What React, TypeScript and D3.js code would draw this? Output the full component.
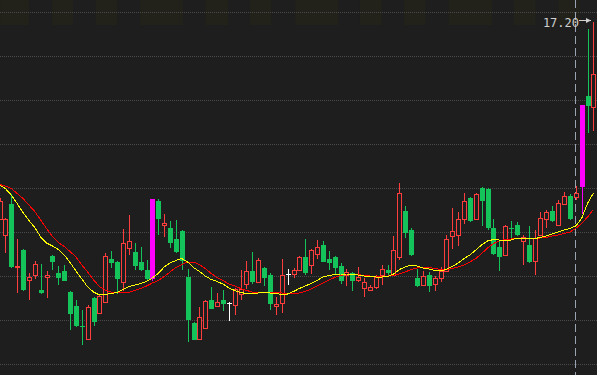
import React from 'react';
import * as d3 from 'd3';

const W = 597;
const H = 375;

// candle data (price)
const opens = [13.27,12.95,13.56,12.31,12.64,12.05,12.13,11.84,12.10,12.52,12.18,12.23,11.80,11.52,11.12,10.87,11.68,11.39,11.61,12.46,12.40,12.01,12.69,12.60,12.40,12.24,12.06,13.62,13.13,13.08,12.86,13.02,12.10,11.18,10.87,11.09,11.64,11.53,11.64,11.59,11.55,11.76,11.97,12.22,12.01,12.28,12.14,11.53,11.59,12.17,12.17,12.25,12.50,12.35,12.57,12.74,12.46,12.50,12.32,12.15,12.18,12.05,11.89,11.85,11.90,12.15,12.25,12.13,12.51,13.42,13.04,12.08,11.95,12.13,11.97,12.09,12.23,12.93,12.95,13.27,13.68,13.26,13.88,13.86,13.08,12.70,12.54,13.09,13.14,12.83,12.75,12.43,12.95,13.27,13.42,13.15,13.57,13.73,13.71,13.91,15.73,15.51];
const highs = [13.68,13.28,13.76,12.87,12.66,12.18,12.42,12.36,12.22,12.54,12.33,12.35,11.82,11.64,11.44,11.54,11.70,11.77,12.59,12.62,12.42,13.06,13.34,12.78,12.71,12.44,13.66,13.66,13.36,13.22,13.24,13.04,12.27,11.20,11.51,11.65,11.90,11.78,11.84,11.61,11.88,12.24,12.43,12.60,12.48,12.30,12.18,11.71,12.46,12.26,12.29,12.52,12.86,12.67,12.84,12.82,12.62,12.52,12.38,12.27,12.20,12.30,12.09,11.94,12.15,12.34,12.34,12.93,13.99,13.52,13.09,12.26,12.23,12.20,12.12,12.30,12.94,13.48,13.41,13.78,13.70,13.78,13.91,13.88,13.26,12.82,13.14,13.22,13.20,12.94,13.12,13.04,13.40,13.44,13.52,13.64,13.80,13.76,13.92,15.54,17.06,17.20];
const lows = [13.24,12.59,12.29,11.79,11.82,11.65,12.06,11.77,11.69,12.25,11.95,12.02,11.05,11.10,10.75,10.86,11.13,11.38,11.60,12.29,11.76,11.82,12.54,12.25,12.23,12.03,12.02,12.94,12.91,12.68,12.58,12.25,10.81,10.84,10.86,11.08,11.46,11.51,11.43,11.23,11.35,11.65,11.86,11.97,12.00,11.93,11.44,11.35,11.39,11.94,12.09,12.24,12.13,12.16,12.47,12.40,12.25,12.15,11.97,11.93,11.83,12.01,11.71,11.83,11.87,11.95,12.13,12.12,12.45,12.89,12.52,11.90,11.93,11.81,11.83,12.01,12.22,12.66,12.73,13.17,13.20,13.25,13.12,13.04,12.54,12.22,12.52,12.85,12.92,12.34,12.39,12.13,12.94,13.09,13.20,13.14,13.56,13.25,13.64,13.37,14.99,15.03];
const closes = [13.62,13.27,12.31,12.32,11.84,12.11,12.37,11.79,12.15,12.40,12.09,12.03,11.37,11.12,11.11,11.51,11.21,11.72,12.52,12.39,12.07,12.78,12.83,12.32,12.25,12.07,13.66,13.26,13.18,12.79,12.60,12.43,11.25,10.85,11.30,11.63,11.47,11.61,11.56,11.59,11.86,11.86,12.22,12.01,12.44,12.09,11.57,11.57,12.14,12.17,12.24,12.50,12.19,12.63,12.71,12.41,12.38,12.28,12.02,12.20,12.02,12.10,12.00,11.90,12.11,12.27,12.18,12.65,13.78,12.99,12.54,11.93,12.12,11.93,12.08,12.22,12.86,13.03,13.27,13.62,13.22,13.76,13.62,13.08,12.56,12.50,13.12,13.08,12.94,12.90,12.41,12.88,13.29,13.40,13.22,13.58,13.72,13.27,13.79,15.54,15.53,16.16];
const limitUpDays = [26, 99];

// moving averages
const maShort = [13.94,13.87,13.74,13.57,13.39,13.23,13.09,12.90,12.78,12.72,12.65,12.54,12.39,12.22,12.06,11.90,11.80,11.74,11.75,11.77,11.79,11.85,11.91,11.94,11.97,12.01,12.08,12.17,12.30,12.38,12.43,12.47,12.40,12.29,12.21,12.12,12.05,12.01,11.96,11.88,11.83,11.79,11.77,11.77,11.78,11.79,11.78,11.77,11.75,11.76,11.81,11.87,11.92,11.97,12.03,12.10,12.13,12.15,12.16,12.16,12.15,12.14,12.12,12.11,12.10,12.10,12.11,12.16,12.25,12.30,12.34,12.32,12.28,12.26,12.23,12.22,12.25,12.31,12.38,12.47,12.54,12.64,12.74,12.82,12.85,12.84,12.83,12.84,12.88,12.88,12.87,12.87,12.89,12.92,12.96,13.00,13.04,13.07,13.12,13.27,13.57,13.78];
const maLong = [13.95,13.92,13.87,13.77,13.67,13.54,13.41,13.24,13.07,12.91,12.79,12.71,12.61,12.50,12.34,12.20,12.04,11.91,11.84,11.80,11.79,11.78,11.79,11.83,11.87,11.92,11.98,12.03,12.11,12.20,12.29,12.35,12.40,12.40,12.35,12.27,12.17,12.09,12.03,11.96,11.92,11.87,11.83,11.80,11.79,11.79,11.79,11.79,11.78,11.77,11.77,11.78,11.81,11.86,11.92,11.98,12.04,12.09,12.13,12.15,12.15,12.15,12.13,12.12,12.12,12.12,12.12,12.13,12.16,12.20,12.25,12.28,12.29,12.29,12.27,12.25,12.24,12.27,12.30,12.34,12.40,12.47,12.57,12.68,12.77,12.82,12.85,12.86,12.87,12.87,12.87,12.87,12.88,12.89,12.92,12.94,12.97,13.00,13.07,13.17,13.30,13.45];

const gridPrices = [17.39, 16.51, 15.63, 14.75, 13.87, 12.99, 12.11, 11.23, 10.35];
const topBands = [[0.09,5.02],[8.93,12.5],[16.4,20.0],[23.9,31.2],[35.0,38.9],[42.6,46.2],[50.3,57.6],[61.3,65.0],[68.8,72.4],[76.4,83.8],[87.5,91.2],[95.1,98.7]];
const markedDay = 98;
const maxHighLabel = '17.20';

const BG = '#1e1e1e';
const UP = '#ff3d3d';
const DOWN = '#14c35a';
const LIMIT = '#ff00ff';
const FLAT = '#ffffff';

export default function App() {
  const n = opens.length;
  const x = d3.scaleLinear().domain([0, n - 1]).range([-0.5, -0.5 + (n - 1) * 5.88]);
  const y = d3.scaleLinear().domain([17.64, 10.14]).range([0, H]);

  const line = d3.line<number>().x((_, i) => x(i)).y((d) => y(d));

  const candles = opens.map((o, i) => {
    const c = closes[i];
    const h = highs[i];
    const l = lows[i];
    const cx = Math.round(x(i));
    const wx = cx + 0.5;
    const yh = Math.round(y(h));
    const yl = Math.round(y(l));
    const yt = Math.round(y(Math.max(o, c)));
    const yb = Math.round(y(Math.min(o, c)));
    const limit = limitUpDays.includes(i);
    if (limit) {
      return (
        <g key={i}>
          <line x1={wx} x2={wx} y1={yh} y2={yl} stroke={LIMIT} />
          <rect x={cx - 2} y={yt} width={5} height={Math.max(1, yb - yt)} fill={LIMIT} />
        </g>
      );
    }
    if (o === c) {
      return (
        <g key={i}>
          <line x1={wx} x2={wx} y1={yh} y2={yl} stroke={FLAT} />
          <line x1={cx - 2} x2={cx + 3} y1={yt + 0.5} y2={yt + 0.5} stroke={FLAT} />
        </g>
      );
    }
    if (c > o) {
      const hgt = yb - yt;
      return (
        <g key={i}>
          <line x1={wx} x2={wx} y1={yh} y2={yt} stroke={UP} />
          <line x1={wx} x2={wx} y1={yb} y2={yl} stroke={UP} />
          {hgt >= 1 ? (
            <rect x={cx - 1.5} y={yt + 0.5} width={4} height={hgt} fill={BG} stroke={UP} />
          ) : (
            <line x1={cx - 2} x2={cx + 3} y1={yt + 0.5} y2={yt + 0.5} stroke={UP} />
          )}
        </g>
      );
    }
    return (
      <g key={i}>
        <line x1={wx} x2={wx} y1={yh} y2={yl} stroke={DOWN} />
        <rect x={cx - 2} y={yt} width={5} height={Math.max(1, yb - yt)} fill={DOWN} />
      </g>
    );
  });

  const markX = Math.floor(x(markedDay)) + 0.5;
  const maxIdx = highs.indexOf(d3.max(highs) as number);
  const ax = Math.round(x(maxIdx));
  const ay = Math.round(y(highs[maxIdx])) - 1.5;

  return (
    <svg
      width={W}
      height={H}
      style={{ position: 'absolute', left: 0, top: 0, display: 'block', background: BG }}
    >
      <rect x={0} y={0} width={W} height={H} fill={BG} />
      {topBands.map(([a, b], k) => (
        <rect key={k} x={x(a)} y={0} width={x(b) - x(a)} height={25} fill="#22211a" />
      ))}
      {gridPrices.map((p, k) => (
        <line
          key={k}
          x1={0}
          x2={W}
          y1={Math.floor(y(p)) + 0.5}
          y2={Math.floor(y(p)) + 0.5}
          stroke="#4a4a4a"
          strokeDasharray="1,1"
          shapeRendering="crispEdges"
        />
      ))}
      <line x1={markX} x2={markX} y1={0} y2={H} stroke="#9aa3b2" strokeDasharray="8,4" shapeRendering="crispEdges" />
      <g shapeRendering="crispEdges">{candles}</g>
      <path d={line(maLong) || ''} fill="none" stroke="#ff0000" strokeWidth={1} shapeRendering="crispEdges" />
      <path d={line(maShort) || ''} fill="none" stroke="#ffff00" strokeWidth={1} shapeRendering="crispEdges" />
      <text
        x={ax - 14}
        y={ay + 6}
        textAnchor="end"
        fontFamily="'DejaVu Sans Mono', monospace"
        fontSize={12}
        fill="#d0d0d0"
      >
        {maxHighLabel}
      </text>
      <line x1={ax - 14} x2={ax - 2} y1={ay} y2={ay} stroke="#d0d0d0" />
      <path d={`M${ax - 2},${ay} L${ax - 7},${ay - 2.5} L${ax - 7},${ay + 2.5} Z`} fill="#d0d0d0" />
    </svg>
  );
}
